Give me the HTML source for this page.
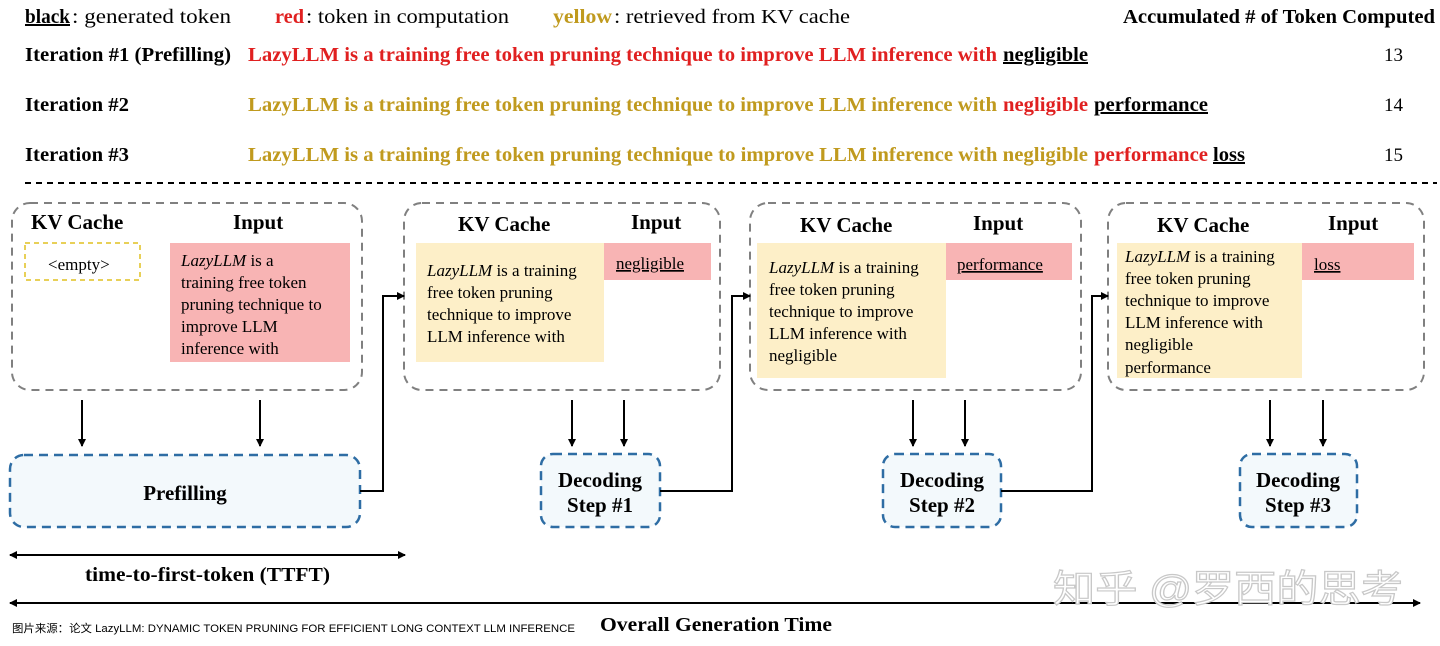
<!DOCTYPE html>
<html><head><meta charset="utf-8"><style>html,body{margin:0;padding:0;background:#fff}svg{display:block}</style></head><body>
<svg width="1440" height="646" viewBox="0 0 1440 646" xmlns="http://www.w3.org/2000/svg" font-family="Liberation Serif, serif">
<defs>
<marker id="ah" markerWidth="8" markerHeight="8" refX="7" refY="4" orient="auto" markerUnits="userSpaceOnUse"><path d="M0,0 L8,4 L0,8 z" fill="#000"/></marker>
<marker id="ah2" markerWidth="8" markerHeight="8" refX="1" refY="4" orient="auto" markerUnits="userSpaceOnUse"><path d="M8,0 L0,4 L8,8 z" fill="#000"/></marker>
</defs>
<g font-size="20" lengthAdjust="spacingAndGlyphs">
<text x="25" y="23" font-weight="bold" text-decoration="underline" textLength="45" lengthAdjust="spacingAndGlyphs">black</text><text x="72" y="23" textLength="159" lengthAdjust="spacingAndGlyphs">: generated token</text>
<text x="275" y="23" font-weight="bold" fill="#e02020" textLength="29" lengthAdjust="spacingAndGlyphs">red</text><text x="306" y="23" textLength="203" lengthAdjust="spacingAndGlyphs">: token in computation</text>
<text x="553" y="23" font-weight="bold" fill="#c09a1e" textLength="59" lengthAdjust="spacingAndGlyphs">yellow</text><text x="614" y="23" textLength="236" lengthAdjust="spacingAndGlyphs">: retrieved from KV cache</text>
<text x="1123" y="23" font-weight="bold" textLength="312" lengthAdjust="spacingAndGlyphs">Accumulated # of Token Computed</text>
</g>
<g font-size="20" font-weight="bold">
<text x="25" y="61" textLength="206" lengthAdjust="spacingAndGlyphs">Iteration #1 (Prefilling)</text>
<text x="25" y="111" textLength="104" lengthAdjust="spacingAndGlyphs">Iteration #2</text>
<text x="25" y="161" textLength="104" lengthAdjust="spacingAndGlyphs">Iteration #3</text>
<text x="248" y="61" fill="#e02020" textLength="749" lengthAdjust="spacingAndGlyphs">LazyLLM is a training free token pruning technique to improve LLM inference with</text>
<text x="1003" y="61" text-decoration="underline" textLength="85" lengthAdjust="spacingAndGlyphs">negligible</text>
<text x="248" y="111" fill="#c09a1e" textLength="749" lengthAdjust="spacingAndGlyphs">LazyLLM is a training free token pruning technique to improve LLM inference with</text>
<text x="1003" y="111" fill="#e02020" textLength="85" lengthAdjust="spacingAndGlyphs">negligible</text>
<text x="1094" y="111" text-decoration="underline" textLength="114" lengthAdjust="spacingAndGlyphs">performance</text>
<text x="248" y="161" fill="#c09a1e" textLength="840" lengthAdjust="spacingAndGlyphs">LazyLLM is a training free token pruning technique to improve LLM inference with negligible</text>
<text x="1094" y="161" fill="#e02020" textLength="114" lengthAdjust="spacingAndGlyphs">performance</text>
<text x="1213" y="161" text-decoration="underline" textLength="32" lengthAdjust="spacingAndGlyphs">loss</text>
</g>
<g font-size="19"><text x="1384" y="61">13</text><text x="1384" y="111">14</text><text x="1384" y="161">15</text></g>
<line x1="25" y1="183" x2="1437" y2="183" stroke="#000" stroke-width="2" stroke-dasharray="6,5"/>

<g fill="none" stroke="#808080" stroke-width="2" stroke-dasharray="8,6">
<rect x="12" y="203" width="350" height="187" rx="18"/>
<rect x="404" y="203" width="316" height="187" rx="18"/>
<rect x="750" y="203" width="331" height="187" rx="18"/>
<rect x="1108" y="203" width="316" height="187" rx="18"/>
</g>
<rect x="170" y="243" width="180" height="119" fill="#f8b4b4"/>
<rect x="416" y="243" width="188" height="119" fill="#fdefc8"/><rect x="604" y="243" width="107" height="37" fill="#f8b4b4"/>
<rect x="757" y="243" width="189" height="135" fill="#fdefc8"/><rect x="946" y="243" width="126" height="37" fill="#f8b4b4"/>
<rect x="1117" y="243" width="185" height="135" fill="#fdefc8"/><rect x="1302" y="243" width="112" height="37" fill="#f8b4b4"/>
<rect x="25" y="243" width="115" height="37" fill="none" stroke="#e0c020" stroke-width="1.5" stroke-dasharray="5,4"/>

<g font-size="21" font-weight="bold">
<text x="31" y="229">KV Cache</text><text x="233" y="229">Input</text>
<text x="458" y="231">KV Cache</text><text x="631" y="229">Input</text>
<text x="800" y="232">KV Cache</text><text x="973" y="230">Input</text>
<text x="1157" y="232">KV Cache</text><text x="1328" y="230">Input</text>
</g>
<g font-size="17">
<text x="48" y="270">&lt;empty&gt;</text>
<text x="181" y="266"><tspan font-style="italic">LazyLLM</tspan> is a</text>
<text x="181" y="288">training free token</text>
<text x="181" y="310">pruning technique to</text>
<text x="181" y="332">improve LLM</text>
<text x="181" y="354">inference with</text>

<text x="427" y="276"><tspan font-style="italic">LazyLLM</tspan> is a training</text>
<text x="427" y="298">free token pruning</text>
<text x="427" y="320">technique to improve</text>
<text x="427" y="342">LLM inference with</text>
<text x="616" y="269" text-decoration="underline">negligible</text>

<text x="769" y="273"><tspan font-style="italic">LazyLLM</tspan> is a training</text>
<text x="769" y="295">free token pruning</text>
<text x="769" y="317">technique to improve</text>
<text x="769" y="339">LLM inference with</text>
<text x="769" y="361">negligible</text>
<text x="957" y="270" text-decoration="underline">performance</text>

<text x="1125" y="262"><tspan font-style="italic">LazyLLM</tspan> is a training</text>
<text x="1125" y="284">free token pruning</text>
<text x="1125" y="306">technique to improve</text>
<text x="1125" y="328">LLM inference with</text>
<text x="1125" y="350">negligible</text>
<text x="1125" y="373">performance</text>
<text x="1314" y="270" text-decoration="underline">loss</text>
</g>

<g fill="#f3f9fc" stroke="#2e6da4" stroke-width="2.5" stroke-dasharray="9,6">
<rect x="10" y="455" width="350" height="72" rx="14"/>
<rect x="541" y="454" width="119" height="73" rx="12"/>
<rect x="883" y="454" width="118" height="73" rx="12"/>
<rect x="1240" y="454" width="117" height="73" rx="12"/>
</g>
<g font-size="21" font-weight="bold" text-anchor="middle">
<text x="185" y="500">Prefilling</text>
<text x="600" y="487">Decoding</text><text x="600" y="512">Step #1</text>
<text x="942" y="487">Decoding</text><text x="942" y="512">Step #2</text>
<text x="1298" y="487">Decoding</text><text x="1298" y="512">Step #3</text>
</g>

<g stroke="#000" stroke-width="2" fill="none" marker-end="url(#ah)">
<line x1="82" y1="400" x2="82" y2="446"/><line x1="260" y1="400" x2="260" y2="446"/>
<line x1="572" y1="400" x2="572" y2="446"/><line x1="624" y1="400" x2="624" y2="446"/>
<line x1="913" y1="400" x2="913" y2="446"/><line x1="965" y1="400" x2="965" y2="446"/>
<line x1="1270" y1="400" x2="1270" y2="446"/><line x1="1323" y1="400" x2="1323" y2="446"/>
<polyline points="360,491 383,491 383,296 404,296"/>
<polyline points="660,491 732,491 732,296 750,296"/>
<polyline points="1001,491 1092,491 1092,296 1108,296"/>
</g>
<g stroke="#000" stroke-width="2" marker-end="url(#ah)" marker-start="url(#ah2)">
<line x1="10" y1="555" x2="405" y2="555"/>
<line x1="10" y1="603" x2="1420" y2="603"/>
</g>
<text x="85" y="581" font-size="20" font-weight="bold" textLength="245" lengthAdjust="spacingAndGlyphs">time-to-first-token (TTFT)</text>
<text x="600" y="631" font-size="20" font-weight="bold" textLength="232" lengthAdjust="spacingAndGlyphs">Overall Generation Time</text>
<text x="12" y="632" font-size="11" font-family="Liberation Sans, Noto Sans CJK SC, sans-serif" textLength="563" lengthAdjust="spacingAndGlyphs">图片来源：论文 LazyLLM: DYNAMIC TOKEN PRUNING FOR EFFICIENT LONG CONTEXT LLM INFERENCE</text>
<text x="1053" y="602" font-size="38" fill="#ffffff" stroke="#c8c8c8" stroke-width="1.2" font-family="Liberation Sans, Noto Sans CJK SC, sans-serif" textLength="350" lengthAdjust="spacingAndGlyphs">知乎 @罗西的思考</text>
</svg>
</body></html>
